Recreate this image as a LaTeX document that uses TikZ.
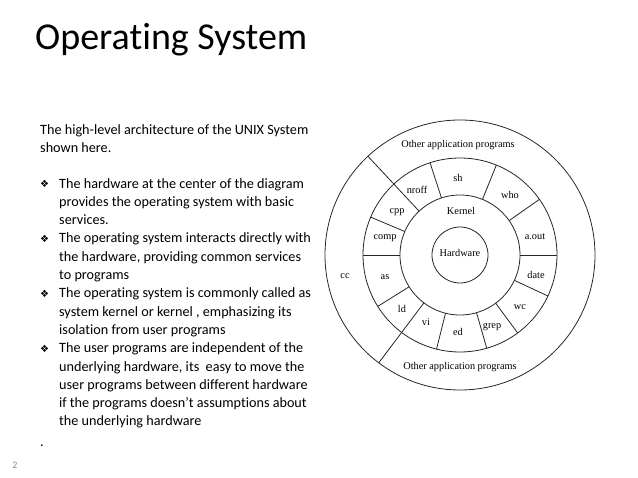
\documentclass[tikz,border=0pt]{standalone}
\usepackage{fontspec}
\setmainfont[Ligatures=NoCommon]{Carlito}
\newfontfamily\diafont{Liberation Serif}
\newfontfamily\symfont{DejaVu Sans}
\begin{document}
\begin{tikzpicture}[x=1pt,y=-1pt,
  lbl/.style={font=\diafont\fontsize{10.3}{12}\selectfont, inner sep=0pt},
  ring/.style={line width=0.8pt, draw=black!85},
  body/.style={font=\fontsize{14.2}{18.3}\selectfont, anchor=north west, align=left, inner sep=0pt}]
\useasboundingbox (0,0) rectangle (638,478);
\node[anchor=west, inner sep=0pt, font=\fontsize{38}{42}\selectfont] (title) at (35,40) {Operating System};
\newcommand{\bul}{\makebox[19pt][l]{\raisebox{0.5pt}{\symfont\fontsize{10}{10}\selectfont ❖}}}
\node[body] (intro) at (40,124) {The high-level architecture of the UNIX System\\shown here.};
\node[body] (b1) at (40,178) {\bul The hardware at the center of the diagram\\
\hspace*{19pt}provides the operating system with basic\\
\hspace*{19pt}services.\\
\bul The operating system interacts directly with\\
\hspace*{19pt}the hardware, providing common services\\
\hspace*{19pt}to programs\\
\bul The operating system is commonly called as\\
\hspace*{19pt}system kernel or kernel , emphasizing its\\
\hspace*{19pt}isolation from user programs\\
\bul The user programs are independent of the\\
\hspace*{19pt}underlying hardware, its\ \ easy to move the\\
\hspace*{19pt}user programs between different hardware\\
\hspace*{19pt}if the programs doesn’t assumptions about\\
\hspace*{19pt}the underlying hardware\\[2pt]
.};
\node[inner sep=0pt, text=black!45, font=\fontsize{10}{12}\selectfont] (pg) at (15,465) {2};
% diagram
\coordinate (c) at (460,255);
\draw[ring] (c) circle[radius=135];
\draw[ring] (c) circle[radius=97];
\draw[ring] (c) circle[radius=60];
\draw[ring] (c) circle[radius=28];
\foreach \a in {108,68,35,0,-25,-53.5,-74,-104,-148,180,157}
  \draw[ring] ([shift={(-\a:60)}]c) -- ([shift={(-\a:97)}]c);
\foreach \a in {133,-127}
  \draw[ring] ([shift={(-\a:60)}]c) -- ([shift={(-\a:135)}]c);
\node[lbl] (hw) at (460,253) {Hardware};
\node[lbl] (kern) at (461,211) {Kernel};
\node[lbl] (sh) at (458,178) {sh};
\node[lbl] (nroff) at (417,190) {nroff};
\node[lbl] (who) at (510,195) {who};
\node[lbl] (cpp) at (397,212) {cpp};
\node[lbl] (comp) at (385,238) {comp};
\node[lbl] (aout) at (535,237) {a.out};
\node[lbl] (as) at (385,277) {as};
\node[lbl] (date) at (536,275) {date};
\node[lbl] (ld) at (402,309) {ld};
\node[lbl] (wc) at (520,307) {wc};
\node[lbl] (vi) at (426,322) {vi};
\node[lbl] (grep) at (492,327) {grep};
\node[lbl] (ed) at (458,332) {ed};
\node[lbl] (cc) at (345,276) {cc};
\node[lbl] (oap1) at (458,145) {Other application programs};
\node[lbl] (oap2) at (460,367) {Other application programs};
\end{tikzpicture}
\end{document}
